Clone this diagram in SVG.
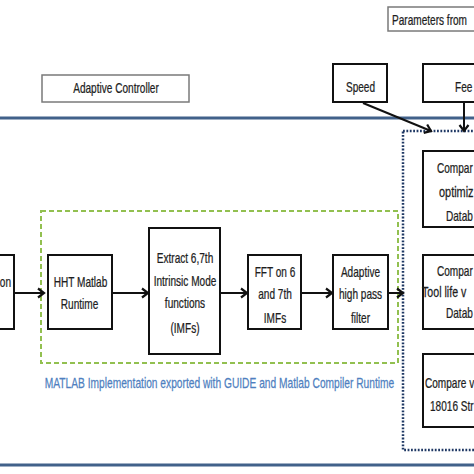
<svg xmlns="http://www.w3.org/2000/svg" width="474" height="474" viewBox="0 0 474 474">
<defs>
<style>
.box{fill:#fff;stroke:#111;stroke-width:2}
.gbox{fill:#fff;stroke:#7a7a7a;stroke-width:1.5}
.t{font-family:"Liberation Sans",Arial,sans-serif;font-size:14px;fill:#1e1e1e;stroke:#1e1e1e;stroke-width:0.25}
.m{text-anchor:middle}
.cap{font-family:"Liberation Sans",Arial,sans-serif;font-size:14px;fill:#4f7fc0;stroke:#4f7fc0;stroke-width:0.25;text-anchor:middle}
.conn{stroke:#111;stroke-width:2;fill:none}
.rule{stroke:#41618a;stroke-width:3;fill:none}
</style>
<marker id="ah" markerUnits="userSpaceOnUse" markerWidth="12" markerHeight="12" refX="9" refY="6" orient="auto">
<path d="M3,1.5 L9,6 L3,10.5" fill="none" stroke="#111" stroke-width="2.2"/>
</marker>
</defs>
<rect width="474" height="474" fill="#fff"/>

<line class="rule" x1="0" y1="118" x2="474" y2="118"/>
<line class="rule" x1="0" y1="465" x2="474" y2="465"/>

<g id="matlab-group">
<rect x="41" y="211" width="357" height="152" fill="none" stroke="#92c050" stroke-width="2" stroke-dasharray="5 3"/>
<text class="cap" transform="translate(219.5,388) scale(0.73,1)">MATLAB Implementation exported with GUIDE and Matlab Compiler Runtime</text>
</g>

<g id="compare-group">
<rect x="403" y="131" width="80" height="319" fill="none" stroke="#1f3864" stroke-width="2.5" stroke-dasharray="1.8 1.6"/>
</g>

<g id="params">
<rect class="gbox" x="388" y="7" width="95" height="24"/>
<text class="t" transform="translate(392,25) scale(0.72,1)">Parameters from</text>
</g>
<g id="adaptive-controller">
<rect class="gbox" x="42" y="75" width="147" height="27"/>
<text class="t m" transform="translate(116,93) scale(0.72,1)">Adaptive Controller</text>
</g>
<g id="speed">
<rect class="box" x="333" y="64" width="54" height="38"/>
<text class="t m" transform="translate(360.5,92) scale(0.72,1)">Speed</text>
</g>
<g id="feed">
<rect class="box" x="423" y="64" width="60" height="38"/>
<text class="t" transform="translate(455,92) scale(0.72,1)">Fee</text>
</g>

<g id="acquisition">
<rect class="box" x="-5" y="255" width="19" height="74"/>
<text class="t" text-anchor="end" transform="translate(11,287) scale(0.72,1)">on</text>
</g>
<g id="hht">
<rect class="box" x="48" y="255" width="64" height="74"/>
<text class="t m" transform="translate(80.5,287) scale(0.72,1)">HHT Matlab</text>
<text class="t m" transform="translate(79.5,309) scale(0.72,1)">Runtime</text>
</g>
<g id="extract">
<rect class="box" x="149" y="228" width="71" height="126"/>
<text class="t m" transform="translate(185,263) scale(0.72,1)">Extract 6,7th</text>
<text class="t m" transform="translate(185,286) scale(0.72,1)">Intrinsic Mode</text>
<text class="t m" transform="translate(185,308) scale(0.72,1)">functions</text>
<text class="t m" transform="translate(185,333) scale(0.72,1)">(IMFs)</text>
</g>
<g id="fft">
<rect class="box" x="248" y="255" width="53" height="74"/>
<text class="t m" transform="translate(275,277) scale(0.72,1)">FFT on 6</text>
<text class="t m" transform="translate(275,299) scale(0.72,1)">and 7th</text>
<text class="t m" transform="translate(275,323) scale(0.72,1)">IMFs</text>
</g>
<g id="highpass">
<rect class="box" x="333" y="255" width="55" height="74"/>
<text class="t m" transform="translate(360.5,277) scale(0.72,1)">Adaptive</text>
<text class="t m" transform="translate(360.5,299) scale(0.72,1)">high pass</text>
<text class="t m" transform="translate(360.5,323) scale(0.72,1)">filter</text>
</g>

<g id="compare-optimized">
<rect class="box" x="423" y="151" width="60" height="76"/>
<text class="t" transform="translate(437,173) scale(0.72,1)">Compar</text>
<text class="t" transform="translate(439,197) scale(0.78,1)">optimiz</text>
<text class="t" transform="translate(446,221) scale(0.72,1)">Datab</text>
</g>
<g id="compare-toollife">
<rect class="box" x="423" y="255" width="60" height="74"/>
<text class="t" transform="translate(437,276) scale(0.72,1)">Compar</text>
<text class="t" transform="translate(422,297) scale(0.76,1)">Tool life v</text>
<text class="t" transform="translate(446,318) scale(0.72,1)">Datab</text>
</g>
<g id="compare-standard">
<rect class="box" x="423" y="354" width="60" height="73"/>
<text class="t" transform="translate(425,388) scale(0.72,1)">Compare v</text>
<text class="t" transform="translate(430,411) scale(0.72,1)">18016 Str</text>
</g>

<g id="connectors">
<line class="conn" x1="14" y1="293" x2="44" y2="293" marker-end="url(#ah)"/>
<line class="conn" x1="112" y1="293" x2="148" y2="293" marker-end="url(#ah)"/>
<line class="conn" x1="220" y1="293" x2="247" y2="293" marker-end="url(#ah)"/>
<line class="conn" x1="301" y1="293" x2="332" y2="293" marker-end="url(#ah)"/>
<line class="conn" x1="388" y1="293" x2="403" y2="293" marker-end="url(#ah)"/>
<line class="conn" x1="363" y1="103" x2="431" y2="131" marker-end="url(#ah)"/>
<line class="conn" x1="464" y1="103" x2="464" y2="131" marker-end="url(#ah)"/>
</g>
</svg>
